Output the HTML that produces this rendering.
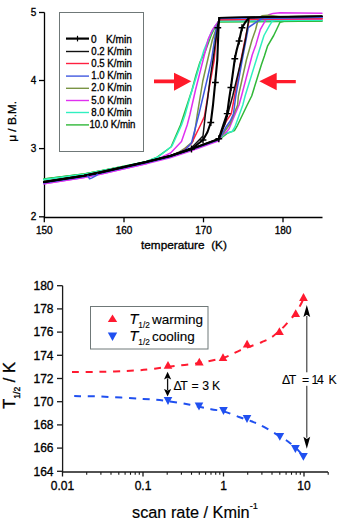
<!DOCTYPE html>
<html><head><meta charset="utf-8"><style>
html,body{margin:0;padding:0;background:#fff;width:338px;height:520px;overflow:hidden}
svg{display:block;font-family:"Liberation Sans", sans-serif}
</style></head><body>
<svg width="338" height="520" viewBox="0 0 338 520">
<path d="M44.5,12.5 V217.5 H322.5" fill="none" stroke="#000" stroke-width="1.3"/>
<line x1="39" y1="12.5" x2="44.5" y2="12.5" stroke="#000" stroke-width="1.3"/>
<text x="36.3" y="16.1" font-size="10" text-anchor="end" fill="#000" stroke="#000" stroke-width="0.32" >5</text>
<line x1="39" y1="80.5" x2="44.5" y2="80.5" stroke="#000" stroke-width="1.3"/>
<text x="36.3" y="84.1" font-size="10" text-anchor="end" fill="#000" stroke="#000" stroke-width="0.32" >4</text>
<line x1="39" y1="148.6" x2="44.5" y2="148.6" stroke="#000" stroke-width="1.3"/>
<text x="36.3" y="152.2" font-size="10" text-anchor="end" fill="#000" stroke="#000" stroke-width="0.32" >3</text>
<line x1="39" y1="216.8" x2="44.5" y2="216.8" stroke="#000" stroke-width="1.3"/>
<text x="36.3" y="220.4" font-size="10" text-anchor="end" fill="#000" stroke="#000" stroke-width="0.32" >2</text>
<line x1="44.3" y1="217" x2="44.3" y2="222.3" stroke="#000" stroke-width="1.3"/>
<text x="44.3" y="234.2" font-size="10" text-anchor="middle" fill="#000" stroke="#000" stroke-width="0.32" >150</text>
<line x1="124" y1="217" x2="124" y2="222.3" stroke="#000" stroke-width="1.3"/>
<text x="124" y="234.2" font-size="10" text-anchor="middle" fill="#000" stroke="#000" stroke-width="0.32" >160</text>
<line x1="203.5" y1="217" x2="203.5" y2="222.3" stroke="#000" stroke-width="1.3"/>
<text x="203.5" y="234.2" font-size="10" text-anchor="middle" fill="#000" stroke="#000" stroke-width="0.32" >170</text>
<line x1="283" y1="217" x2="283" y2="222.3" stroke="#000" stroke-width="1.3"/>
<text x="283" y="234.2" font-size="10" text-anchor="middle" fill="#000" stroke="#000" stroke-width="0.32" >180</text>
<text x="141" y="248.6" font-size="11.8" text-anchor="start" fill="#000" stroke="#000" stroke-width="0.32" >temperature&#160;&#160;(K)</text>
<text transform="translate(15.8,121.3) rotate(-90)" font-size="11.8" text-anchor="middle" fill="#000" stroke="#000" stroke-width="0.32">&#956; / B.M.</text>
<rect x="59.5" y="12.5" width="84" height="139" fill="none" stroke="#6f7878" stroke-width="1"/>
<line x1="66" y1="38.6" x2="89" y2="38.6" stroke="#000000" stroke-width="2.2"/>
<line x1="77.5" y1="35.8" x2="77.5" y2="41.4" stroke="#000" stroke-width="1.2"/>
<text x="91" y="42.85" font-size="10.1" text-anchor="start" fill="#000" stroke="#000" stroke-width="0.32" >0</text>
<text transform="translate(106,42.85) scale(1,1)" font-size="10.1" fill="#000" stroke="#000" stroke-width="0.32">K/min</text>
<line x1="66" y1="51.5" x2="89" y2="51.5" stroke="#111111" stroke-width="1.4"/>
<text transform="translate(91.3,55.01) scale(0.955,1)" font-size="10.1" fill="#000" stroke="#000" stroke-width="0.32">0.2 K/min</text>
<line x1="66" y1="63.5" x2="89" y2="63.5" stroke="#ff2040" stroke-width="1.4"/>
<text transform="translate(91.3,67.17) scale(0.955,1)" font-size="10.1" fill="#000" stroke="#000" stroke-width="0.32">0.5 K/min</text>
<line x1="66" y1="76.1" x2="89" y2="76.1" stroke="#4058e0" stroke-width="1.4"/>
<text transform="translate(91.3,79.33) scale(0.955,1)" font-size="10.1" fill="#000" stroke="#000" stroke-width="0.32">1.0 K/min</text>
<line x1="66" y1="88.3" x2="89" y2="88.3" stroke="#7a9444" stroke-width="1.4"/>
<text transform="translate(91.3,91.49) scale(0.955,1)" font-size="10.1" fill="#000" stroke="#000" stroke-width="0.32">2.0 K/min</text>
<line x1="66" y1="100.5" x2="89" y2="100.5" stroke="#e030f0" stroke-width="1.4"/>
<text transform="translate(91.3,103.65) scale(0.955,1)" font-size="10.1" fill="#000" stroke="#000" stroke-width="0.32">5.0 K/min</text>
<line x1="66" y1="112.5" x2="89" y2="112.5" stroke="#30f0c0" stroke-width="1.4"/>
<text transform="translate(91.3,115.81) scale(0.955,1)" font-size="10.1" fill="#000" stroke="#000" stroke-width="0.32">8.0 K/min</text>
<line x1="66" y1="124.9" x2="89" y2="124.9" stroke="#30b838" stroke-width="1.4"/>
<text transform="translate(89.4,127.97) scale(0.955,1)" font-size="10.1" fill="#000" stroke="#000" stroke-width="0.32">10.0 K/min</text>
<path d="M44.0,179.1 L84.0,174.0 L100.0,171.0 L124.0,166.2 L146.0,161.8 L170.0,156.4 L191.3,149.8 L218.7,139.8 L227.2,133.3 L234.4,130.6 L237.5,125.3 L247.2,105.0 L251.7,96.0 L261.3,65.0 L264.4,56.0 L267.5,46.2 L273.7,35.5 L277.3,28.0 L280.0,22.3 L284.0,21.3 L322.0,21.1" fill="none" stroke="#30b838" stroke-width="1.5" stroke-linejoin="round" stroke-linecap="round" />
<path d="M322.0,21.1 L219.5,22.0 L215.5,26.4 L211.5,34.4 L205.0,52.0 L200.0,62.0 L196.0,75.0 L192.0,90.0 L183.8,115.0 L180.5,125.0 L171.0,147.0 L157.2,157.2 L146.0,161.8 L124.0,166.2 L100.0,171.0 L84.0,174.0 L44.0,179.1" fill="none" stroke="#30b838" stroke-width="1.5" stroke-linejoin="round" stroke-linecap="round" />
<path d="M44.0,179.8 L84.0,174.4 L100.0,171.3 L124.0,166.4 L146.0,161.8 L170.0,156.3 L191.3,149.6 L218.7,139.6 L225.7,133.3 L232.2,131.5 L234.9,127.0 L242.8,105.0 L245.1,96.0 L257.5,56.0 L264.0,35.5 L269.3,25.8 L272.4,20.9 L276.0,20.3 L322.0,20.1" fill="none" stroke="#30f0c0" stroke-width="1.5" stroke-linejoin="round" stroke-linecap="round" />
<path d="M322.0,20.1 L219.5,21.0 L215.5,25.5 L211.0,33.0 L204.0,50.0 L201.0,60.0 L196.8,75.0 L190.0,97.0 L185.0,115.0 L181.5,125.0 L172.0,146.0 L158.0,157.0 L146.0,161.8 L124.0,166.4 L100.0,171.3 L84.0,174.4 L44.0,179.8" fill="none" stroke="#30f0c0" stroke-width="1.5" stroke-linejoin="round" stroke-linecap="round" />
<path d="M44.0,183.8 L84.0,177.6 L100.0,174.2 L124.0,168.8 L146.0,163.8 L170.0,157.8 L191.3,150.8 L218.7,140.8 L222.0,135.5 L226.0,132.4 L229.1,128.8 L233.1,119.0 L239.0,105.0 L241.5,96.0 L252.2,55.0 L256.0,44.4 L260.4,29.3 L264.9,21.3 L266.8,17.5 L269.0,14.8 L273.0,13.4 L280.0,12.8 L322.0,13.3" fill="none" stroke="#e030f0" stroke-width="1.5" stroke-linejoin="round" stroke-linecap="round" />
<path d="M322.0,19.1 L219.5,19.8 L217.3,22.9 L212.4,30.0 L208.4,38.8 L203.1,60.0 L199.3,75.0 L195.5,90.0 L189.8,115.0 L187.2,125.0 L181.5,141.6 L170.6,153.0 L160.0,158.0 L146.0,163.8 L124.0,168.8 L100.0,174.2 L84.0,177.6 L44.0,183.8" fill="none" stroke="#e030f0" stroke-width="1.5" stroke-linejoin="round" stroke-linecap="round" />
<path d="M44.0,181.5 L84.0,175.4 L100.0,172.1 L124.0,166.8 L146.0,161.9 L170.0,155.9 L191.3,149.0 L218.7,139.0 L221.0,136.5 L230.0,124.0 L237.6,105.0 L238.4,96.0 L246.4,60.0 L252.0,40.0 L255.5,30.0 L258.5,18.0 L262.0,15.8 L268.0,15.2 L280.0,16.6 L322.0,16.4" fill="none" stroke="#7a9444" stroke-width="1.5" stroke-linejoin="round" stroke-linecap="round" />
<path d="M322.0,17.0 L219.0,20.0 L215.8,30.0 L212.3,40.0 L202.8,81.0 L197.2,115.0 L195.0,130.0 L192.8,141.5 L183.9,149.0 L179.8,151.6 L170.0,155.9 L146.0,161.9 L124.0,166.8 L100.0,172.1 L84.0,175.4 L44.0,181.5" fill="none" stroke="#7a9444" stroke-width="1.5" stroke-linejoin="round" stroke-linecap="round" />
<path d="M44.0,182.3 L84.0,176.1 L100.0,172.7 L124.0,167.3 L146.0,162.3 L170.0,156.3 L191.3,149.3 L218.7,139.3 L219.5,138.5 L221.3,131.0 L226.0,121.7 L231.3,113.7 L234.6,96.0 L241.0,60.0 L245.0,40.0 L247.5,28.0 L249.5,18.6 L322.0,18.6" fill="none" stroke="#ff2040" stroke-width="1.5" stroke-linejoin="round" stroke-linecap="round" />
<path d="M322.0,18.6 L219.0,19.5 L217.0,30.0 L214.2,60.0 L208.8,90.0 L204.4,116.6 L200.5,125.0 L191.3,143.8 L183.0,151.0 L170.0,156.3 L146.0,162.3 L124.0,167.3 L100.0,172.7 L84.0,176.1 L44.0,182.3" fill="none" stroke="#ff2040" stroke-width="1.5" stroke-linejoin="round" stroke-linecap="round" />
<path d="M44.0,182.8 L84.0,176.6 L100.0,173.2 L124.0,167.8 L146.0,162.8 L170.0,156.8 L191.3,149.8 L218.7,139.8 L219.5,138.5 L226.0,127.0 L230.4,120.8 L233.5,113.7 L235.8,96.0 L242.2,60.0 L246.0,40.0 L248.3,27.5 L256.3,22.2 L262.0,18.5 L322.0,17.2" fill="none" stroke="#4058e0" stroke-width="1.5" stroke-linejoin="round" stroke-linecap="round" />
<path d="M322.0,17.2 L219.5,18.4 L216.0,30.0 L211.5,60.0 L207.5,78.0 L198.7,115.0 L191.5,143.0 L185.0,150.0 L170.0,156.8 L146.0,162.8 L124.0,167.8 L100.0,173.2 L84.0,176.6 L44.0,182.8" fill="none" stroke="#4058e0" stroke-width="1.5" stroke-linejoin="round" stroke-linecap="round" />
<path d="M44.0,182.0 L84.0,175.8 L100.0,172.4 L124.0,167.0 L146.0,162.0 L170.0,156.0 L191.3,149.0 L218.7,139.0 L219.0,138.8 L225.0,124.0 L232.7,96.0 L241.3,60.0 L245.4,40.0 L249.0,18.0 L270.0,17.0 L322.0,16.3" fill="none" stroke="#111111" stroke-width="1.5" stroke-linejoin="round" stroke-linecap="round" />
<path d="M322.0,16.3 L242.0,17.3 L219.2,17.8 L216.5,35.0 L213.0,60.0 L210.2,78.0 L207.5,100.0 L205.3,115.0 L203.0,136.0 L191.3,148.0 L170.0,156.0 L146.0,162.0 L124.0,167.0 L100.0,172.4 L84.0,175.8 L44.0,182.0" fill="none" stroke="#111111" stroke-width="1.5" stroke-linejoin="round" stroke-linecap="round" />
<path d="M44.0,182.0 L84.0,175.8 L100.0,172.4 L124.0,167.0 L146.0,162.0 L170.0,156.0 L191.3,149.0 L218.7,139.0 L218.8,138.8 L223.3,125.0 L227.2,113.6 L229.0,100.0 L230.9,87.5 L234.8,58.8 L236.7,50.0 L239.1,41.0 L242.0,27.8 L245.6,21.8 L248.5,18.3" fill="none" stroke="#000000" stroke-width="2.1" stroke-linejoin="round" stroke-linecap="round" />
<path d="M219.3,18.3 L218.6,25.5 L217.3,60.0 L215.2,82.5 L213.0,105.0 L210.8,122.5 L207.5,132.0 L203.0,140.0 L191.5,149.0 L191.3,149.0 L170.0,156.0 L146.0,162.0 L124.0,167.0 L100.0,172.4 L84.0,175.8 L44.0,182.0" fill="none" stroke="#000000" stroke-width="2.1" stroke-linejoin="round" stroke-linecap="round" />
<path d="M218.8,17.8 L242.0,17.3 L322.0,16.3" fill="none" stroke="#000" stroke-width="1.6" stroke-linejoin="round" stroke-linecap="round" />
<path d="M88.0,176.0 L89.6,178.8 L92.0,177.9 L96.2,175.7 L97.5,174.4" fill="none" stroke="#4058e0" stroke-width="1.5" stroke-linejoin="round" stroke-linecap="round" />
<path d="M215.4,138.8 H222.2 M218.8,135.3 V142.3" stroke="#000" stroke-width="1.4"/>
<path d="M223.8,113.6 H230.6 M227.2,110.1 V117.1" stroke="#000" stroke-width="1.4"/>
<path d="M227.5,87.5 H234.3 M230.9,84.0 V91.0" stroke="#000" stroke-width="1.4"/>
<path d="M231.4,58.8 H238.2 M234.8,55.3 V62.3" stroke="#000" stroke-width="1.4"/>
<path d="M235.7,41 H242.5 M239.1,37.5 V44.5" stroke="#000" stroke-width="1.4"/>
<path d="M238.6,27.8 H245.4 M242,24.3 V31.3" stroke="#000" stroke-width="1.4"/>
<path d="M214.4,27.8 H221.2 M217.8,24.3 V31.3" stroke="#000" stroke-width="1.4"/>
<path d="M212.0,82.5 H218.8 M215.4,79.0 V86.0" stroke="#000" stroke-width="1.4"/>
<path d="M207.4,122.5 H214.2 M210.8,119.0 V126.0" stroke="#000" stroke-width="1.4"/>
<path d="M199.6,140 H206.4 M203,136.5 V143.5" stroke="#000" stroke-width="1.4"/>
<path d="M188.1,149 H194.9 M191.5,145.5 V152.5" stroke="#000" stroke-width="1.4"/>
<path d="M154,79.6 H174 V72.8 L191.4,81.3 L174,90.7 V83.2 H154 Z" fill="#ff1a2a"/>
<path d="M295.8,80 H276.7 V72.8 L259.3,81.3 L276.7,90.2 V83.2 H295.8 Z" fill="#ff1a2a"/>
<path d="M62.6,285.7 V472 H328" fill="none" stroke="#1a1a1a" stroke-width="1.3"/>
<line x1="57" y1="471.3" x2="62.6" y2="471.3" stroke="#1a1a1a" stroke-width="1.3"/>
<text x="53.5" y="475.5" font-size="12" text-anchor="end" fill="#000" stroke="#000" stroke-width="0.32" >164</text>
<line x1="57" y1="448.1" x2="62.6" y2="448.1" stroke="#1a1a1a" stroke-width="1.3"/>
<text x="53.5" y="452.3" font-size="12" text-anchor="end" fill="#000" stroke="#000" stroke-width="0.32" >166</text>
<line x1="57" y1="424.9" x2="62.6" y2="424.9" stroke="#1a1a1a" stroke-width="1.3"/>
<text x="53.5" y="429.1" font-size="12" text-anchor="end" fill="#000" stroke="#000" stroke-width="0.32" >168</text>
<line x1="57" y1="401.7" x2="62.6" y2="401.7" stroke="#1a1a1a" stroke-width="1.3"/>
<text x="53.5" y="405.90000000000003" font-size="12" text-anchor="end" fill="#000" stroke="#000" stroke-width="0.32" >170</text>
<line x1="57" y1="378.5" x2="62.6" y2="378.5" stroke="#1a1a1a" stroke-width="1.3"/>
<text x="53.5" y="382.7" font-size="12" text-anchor="end" fill="#000" stroke="#000" stroke-width="0.32" >172</text>
<line x1="57" y1="355.3" x2="62.6" y2="355.3" stroke="#1a1a1a" stroke-width="1.3"/>
<text x="53.5" y="359.5" font-size="12" text-anchor="end" fill="#000" stroke="#000" stroke-width="0.32" >174</text>
<line x1="57" y1="332.1" x2="62.6" y2="332.1" stroke="#1a1a1a" stroke-width="1.3"/>
<text x="53.5" y="336.3" font-size="12" text-anchor="end" fill="#000" stroke="#000" stroke-width="0.32" >176</text>
<line x1="57" y1="308.9" x2="62.6" y2="308.9" stroke="#1a1a1a" stroke-width="1.3"/>
<text x="53.5" y="313.09999999999997" font-size="12" text-anchor="end" fill="#000" stroke="#000" stroke-width="0.32" >178</text>
<line x1="57" y1="285.7" x2="62.6" y2="285.7" stroke="#1a1a1a" stroke-width="1.3"/>
<text x="53.5" y="289.90000000000003" font-size="12" text-anchor="end" fill="#000" stroke="#000" stroke-width="0.32" >180</text>
<line x1="62.5" y1="472" x2="62.5" y2="476.5" stroke="#1a1a1a" stroke-width="1.3"/>
<text x="62.5" y="489.9" font-size="12" text-anchor="middle" fill="#000" stroke="#000" stroke-width="0.32" >0.01</text>
<line x1="143.0" y1="472" x2="143.0" y2="476.5" stroke="#1a1a1a" stroke-width="1.3"/>
<text x="143.0" y="489.9" font-size="12" text-anchor="middle" fill="#000" stroke="#000" stroke-width="0.32" >0.1</text>
<line x1="223.5" y1="472" x2="223.5" y2="476.5" stroke="#1a1a1a" stroke-width="1.3"/>
<text x="223.5" y="489.9" font-size="12" text-anchor="middle" fill="#000" stroke="#000" stroke-width="0.32" >1</text>
<line x1="304.0" y1="472" x2="304.0" y2="476.5" stroke="#1a1a1a" stroke-width="1.3"/>
<text x="304.0" y="489.9" font-size="12" text-anchor="middle" fill="#000" stroke="#000" stroke-width="0.32" >10</text>
<line x1="86.7" y1="472" x2="86.7" y2="474.8" stroke="#1a1a1a" stroke-width="1.1"/>
<line x1="100.9" y1="472" x2="100.9" y2="474.8" stroke="#1a1a1a" stroke-width="1.1"/>
<line x1="111.0" y1="472" x2="111.0" y2="474.8" stroke="#1a1a1a" stroke-width="1.1"/>
<line x1="118.8" y1="472" x2="118.8" y2="474.8" stroke="#1a1a1a" stroke-width="1.1"/>
<line x1="125.1" y1="472" x2="125.1" y2="474.8" stroke="#1a1a1a" stroke-width="1.1"/>
<line x1="130.5" y1="472" x2="130.5" y2="474.8" stroke="#1a1a1a" stroke-width="1.1"/>
<line x1="135.2" y1="472" x2="135.2" y2="474.8" stroke="#1a1a1a" stroke-width="1.1"/>
<line x1="139.3" y1="472" x2="139.3" y2="474.8" stroke="#1a1a1a" stroke-width="1.1"/>
<line x1="167.2" y1="472" x2="167.2" y2="474.8" stroke="#1a1a1a" stroke-width="1.1"/>
<line x1="181.4" y1="472" x2="181.4" y2="474.8" stroke="#1a1a1a" stroke-width="1.1"/>
<line x1="191.5" y1="472" x2="191.5" y2="474.8" stroke="#1a1a1a" stroke-width="1.1"/>
<line x1="199.3" y1="472" x2="199.3" y2="474.8" stroke="#1a1a1a" stroke-width="1.1"/>
<line x1="205.6" y1="472" x2="205.6" y2="474.8" stroke="#1a1a1a" stroke-width="1.1"/>
<line x1="211.0" y1="472" x2="211.0" y2="474.8" stroke="#1a1a1a" stroke-width="1.1"/>
<line x1="215.7" y1="472" x2="215.7" y2="474.8" stroke="#1a1a1a" stroke-width="1.1"/>
<line x1="219.8" y1="472" x2="219.8" y2="474.8" stroke="#1a1a1a" stroke-width="1.1"/>
<line x1="247.7" y1="472" x2="247.7" y2="474.8" stroke="#1a1a1a" stroke-width="1.1"/>
<line x1="261.9" y1="472" x2="261.9" y2="474.8" stroke="#1a1a1a" stroke-width="1.1"/>
<line x1="272.0" y1="472" x2="272.0" y2="474.8" stroke="#1a1a1a" stroke-width="1.1"/>
<line x1="279.8" y1="472" x2="279.8" y2="474.8" stroke="#1a1a1a" stroke-width="1.1"/>
<line x1="286.1" y1="472" x2="286.1" y2="474.8" stroke="#1a1a1a" stroke-width="1.1"/>
<line x1="291.5" y1="472" x2="291.5" y2="474.8" stroke="#1a1a1a" stroke-width="1.1"/>
<line x1="296.2" y1="472" x2="296.2" y2="474.8" stroke="#1a1a1a" stroke-width="1.1"/>
<line x1="300.3" y1="472" x2="300.3" y2="474.8" stroke="#1a1a1a" stroke-width="1.1"/>
<line x1="328.2" y1="472" x2="328.2" y2="474.8" stroke="#1a1a1a" stroke-width="1.1"/>
<text x="132" y="517.8" font-size="16.3" fill="#000" stroke="#000" stroke-width="0.18">scan rate / Kmin<tspan font-size="9.2" dy="-9.3">-1</tspan></text>
<text transform="translate(15.2,408.8) rotate(-90)" font-size="16.5" fill="#000" stroke="#000" stroke-width="0.32"><tspan>T</tspan><tspan font-size="8.6" dy="5">1/2</tspan><tspan dy="-5"> / K</tspan></text>
<rect x="90.5" y="306.5" width="117.5" height="42.5" fill="none" stroke="#6f7878" stroke-width="1"/>
<path d="M107.8,321.9 L117.2,321.9 L112.5,314.4 Z" fill="#ff1a30"/>
<path d="M107.8,332.6 L117.2,332.6 L112.5,341.1 Z" fill="#2050f0"/>
<text x="129.3" y="324" font-size="15" fill="#000" stroke="#000" stroke-width="0.12"><tspan font-style="italic">T</tspan><tspan font-size="8.3" dy="4" x="138.3">1/2</tspan></text>
<text x="152" y="324" font-size="13.5" fill="#000" stroke="#000" stroke-width="0.12">warming</text>
<text x="129.3" y="341" font-size="15" fill="#000" stroke="#000" stroke-width="0.12"><tspan font-style="italic">T</tspan><tspan font-size="8.3" dy="4" x="138.3">1/2</tspan></text>
<text x="152" y="341" font-size="13.5" fill="#000" stroke="#000" stroke-width="0.12">cooling</text>
<path d="M72.0,372.1 C76.7,372.1 89.7,372.1 100.0,371.8 C110.3,371.6 125.7,371.0 134.0,370.6 C142.3,370.2 144.5,369.9 150.0,369.3 C155.5,368.7 158.8,368.1 167.0,367.0 C175.2,365.9 189.5,364.6 199.0,363.0 C208.5,361.4 217.2,359.6 224.0,357.5 C230.8,355.4 235.7,352.1 240.0,350.3 C244.3,348.5 246.3,347.9 250.0,346.5 C253.7,345.1 258.5,343.5 262.0,342.0 C265.5,340.5 268.3,339.4 271.0,337.7 C273.7,336.0 275.8,333.9 278.0,332.0 C280.2,330.1 281.8,328.8 284.0,326.6 C286.2,324.4 289.0,321.1 291.0,318.8 C293.0,316.5 294.2,315.8 296.0,313.0 C297.8,310.2 300.6,304.8 302.0,302.0 C303.4,299.2 304.1,297.0 304.5,296.0" fill="none" stroke="#ff1a30" stroke-width="2" stroke-dasharray="7 6.7"/>
<path d="M74.2,396.1 C78.5,396.2 88.5,396.0 100.0,396.5 C111.5,397.0 131.8,398.1 143.0,398.9 C154.2,399.6 159.2,400.0 167.0,401.0 C174.8,402.0 182.7,403.4 190.0,404.8 C197.3,406.2 205.3,408.1 211.0,409.2 C216.7,410.3 219.3,410.2 224.0,411.5 C228.7,412.8 234.4,415.4 239.0,417.0 C243.6,418.6 247.8,419.9 251.3,421.3 C254.8,422.7 256.4,423.2 260.2,425.1 C264.0,427.0 270.0,430.4 274.0,432.7 C278.0,435.0 281.7,437.5 284.0,439.0 C286.3,440.5 286.0,440.0 288.0,441.5 C290.0,443.0 293.3,445.4 296.0,448.0 C298.7,450.6 302.7,455.5 304.0,457.0" fill="none" stroke="#2050f0" stroke-width="2" stroke-dasharray="7 6.7"/>
<path d="M163.7,368.8 L172.3,368.8 L168.0,360.9 Z" fill="#ff1a30"/>
<path d="M195.0,365.6 L203.7,365.6 L199.3,357.8 Z" fill="#ff1a30"/>
<path d="M218.7,361.1 L227.3,361.1 L223.0,353.2 Z" fill="#ff1a30"/>
<path d="M242.8,347.6 L251.4,347.6 L247.1,339.8 Z" fill="#ff1a30"/>
<path d="M275.0,335.1 L283.8,335.1 L279.4,327.2 Z" fill="#ff1a30"/>
<path d="M291.3,317.1 L300.1,317.1 L295.7,309.2 Z" fill="#ff1a30"/>
<path d="M299.1,300.9 L307.9,300.9 L303.5,293.1 Z" fill="#ff1a30"/>
<path d="M163.7,397.1 L172.3,397.1 L168.0,404.9 Z" fill="#2050f0"/>
<path d="M194.7,402.6 L203.3,402.6 L199.0,410.4 Z" fill="#2050f0"/>
<path d="M219.2,407.1 L227.8,407.1 L223.5,414.9 Z" fill="#2050f0"/>
<path d="M242.7,415.1 L251.3,415.1 L247.0,422.9 Z" fill="#2050f0"/>
<path d="M275.4,432.9 L284.2,432.9 L279.8,440.8 Z" fill="#2050f0"/>
<path d="M291.0,445.1 L299.8,445.1 L295.4,452.9 Z" fill="#2050f0"/>
<path d="M299.0,452.9 L307.8,452.9 L303.4,460.8 Z" fill="#2050f0"/>
<line x1="167.6" y1="378.40000000000003" x2="167.6" y2="390.0" stroke="#111" stroke-width="1.3"/>
<path d="M167.6,371.8 L171.2,379.40000000000003 L167.6,377.8 L164.0,379.40000000000003 Z" fill="#000"/>
<path d="M167.6,396.6 L171.2,389.0 L167.6,390.6 L164.0,389.0 Z" fill="#000"/>
<text x="173.6" y="390.2" font-size="12.3" fill="#000" stroke="#000" stroke-width="0.1">&#916;</text>
<text x="180.3" y="390.2" font-size="12.3" fill="#000" stroke="#000" stroke-width="0.1">T</text>
<text x="191.5" y="390.2" font-size="12.3" fill="#000" stroke="#000" stroke-width="0.1">=</text>
<text x="202.3" y="390.2" font-size="12.3" fill="#000" stroke="#000" stroke-width="0.1">3</text>
<text x="211.9" y="390.2" font-size="12.3" fill="#000" stroke="#000" stroke-width="0.1">K</text>
<line x1="306.8" y1="316.0" x2="306.8" y2="437.8" stroke="#333" stroke-width="1.1"/>
<path d="M306.8,305.0 L310.2,317.0 L306.8,314.8 L303.40000000000003,317.0 Z" fill="#000"/>
<path d="M306.8,448.8 L310.2,436.8 L306.8,439.0 L303.40000000000003,436.8 Z" fill="#000"/>
<rect x="280" y="372.3" width="57" height="13.5" fill="#fff"/>
<text x="282" y="384.1" font-size="12.3" fill="#000" stroke="#000" stroke-width="0.1">&#916;</text>
<text x="288.8" y="384.1" font-size="12.3" fill="#000" stroke="#000" stroke-width="0.1">T</text>
<text x="301.9" y="384.1" font-size="12.3" fill="#000" stroke="#000" stroke-width="0.1">=</text>
<text x="311.4" y="384.1" font-size="12.3" fill="#000" stroke="#000" stroke-width="0.1">1</text>
<text x="317.1" y="384.1" font-size="12.3" fill="#000" stroke="#000" stroke-width="0.1">4</text>
<text x="328.4" y="384.1" font-size="12.3" fill="#000" stroke="#000" stroke-width="0.1">K</text>
</svg></body></html>
